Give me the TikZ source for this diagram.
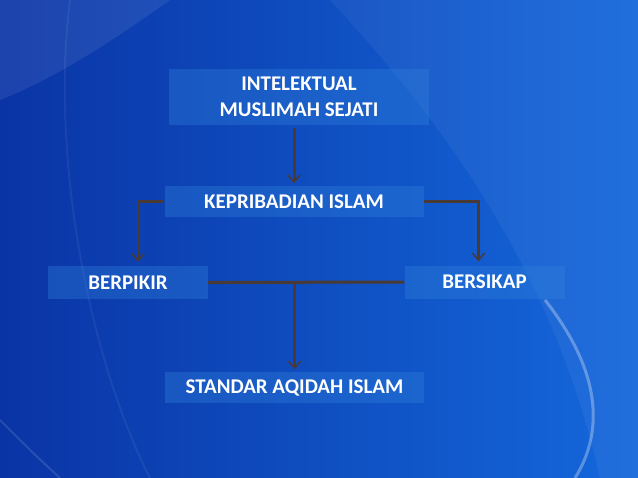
\documentclass[tikz,border=0pt]{standalone}
\usepackage{fontspec}
\setmainfont{Carlito}
\usetikzlibrary{arrows.meta,positioning}
\definecolor{bgdark}{RGB}{10,52,165}
\definecolor{bglight}{RGB}{20,104,220}
\definecolor{boxblue}{RGB}{50,130,220}
\definecolor{linkbrown}{RGB}{74,58,54}
\tikzset{
    basic/.style = {rectangle, fill=boxblue, fill opacity=0.35, text opacity=1, text=white,
                    font=\bfseries\fontsize{21}{26}\selectfont, inner sep=0pt},
    root/.style  = {basic, minimum width=260bp, minimum height=56bp, align=center},
    flat/.style  = {basic, text height=13.3bp, text depth=0pt},
    wide/.style  = {flat, minimum width=259bp, minimum height=31bp},
    side/.style  = {flat, minimum width=160bp, minimum height=33bp},
    link/.style  = {draw=linkbrown, line width=3bp}
}
\begin{document}
\begin{tikzpicture}[x=1bp, y=-1bp,
    >={Straight Barb[length=7bp, width=12bp, line width=0pt 0.5]}]
    \useasboundingbox (0,0) rectangle (638,478);
    % background
    \fill[left color=bgdark, right color=bglight] (0,0) rectangle (638,478);
    \fill[white, opacity=0.08] (0,0) -- (170,0) .. controls (100,50) and (50,80) .. (0,100) -- cycle;
    \fill[white, opacity=0.05] (330,0) .. controls (470,150) and (560,300) .. (600,478) -- (638,478) -- (638,0) -- cycle;
    \draw[white, opacity=0.06, line width=2bp] (70,0) .. controls (50,160) and (90,360) .. (150,478);
    \draw[white, opacity=0.3, line width=3bp] (545,300) .. controls (600,370) and (605,430) .. (575,478);
    \draw[white, opacity=0.12, line width=2bp] (0,420) .. controls (20,440) and (40,460) .. (60,478);
    % boxes
    \node[root] (muslimah) at (299,97) {INTELEKTUAL\\MUSLIMAH SEJATI};
    \node[wide] (islam) at (294,202) {KEPRIBADIAN ISLAM};
    \node[side] (berpikir) at (128,282.5) {BERPIKIR};
    \node[side] (bersikap) at (484.5,282) {BERSIKAP};
    \node[wide] (aqidah) at (294.5,387) {STANDAR AQIDAH ISLAM};
    \coordinate (meet) at (berpikir.east -| aqidah.north);
    % links
    \draw[link, ->, shorten <=3bp, shorten >=3bp] (islam.north |- muslimah.south) -- (islam.north);
    \draw[link, ->, shorten >=4bp] (islam.west) -| ([xshift=10bp]berpikir.north);
    \draw[link, ->, shorten >=4bp] (islam.east) -| ([xshift=-6bp]bersikap.north);
    \draw[link] (berpikir.east) -- (bersikap.west);
    \draw[link, ->, shorten >=2bp] (meet) -- (aqidah.north);
\end{tikzpicture}
\end{document}
